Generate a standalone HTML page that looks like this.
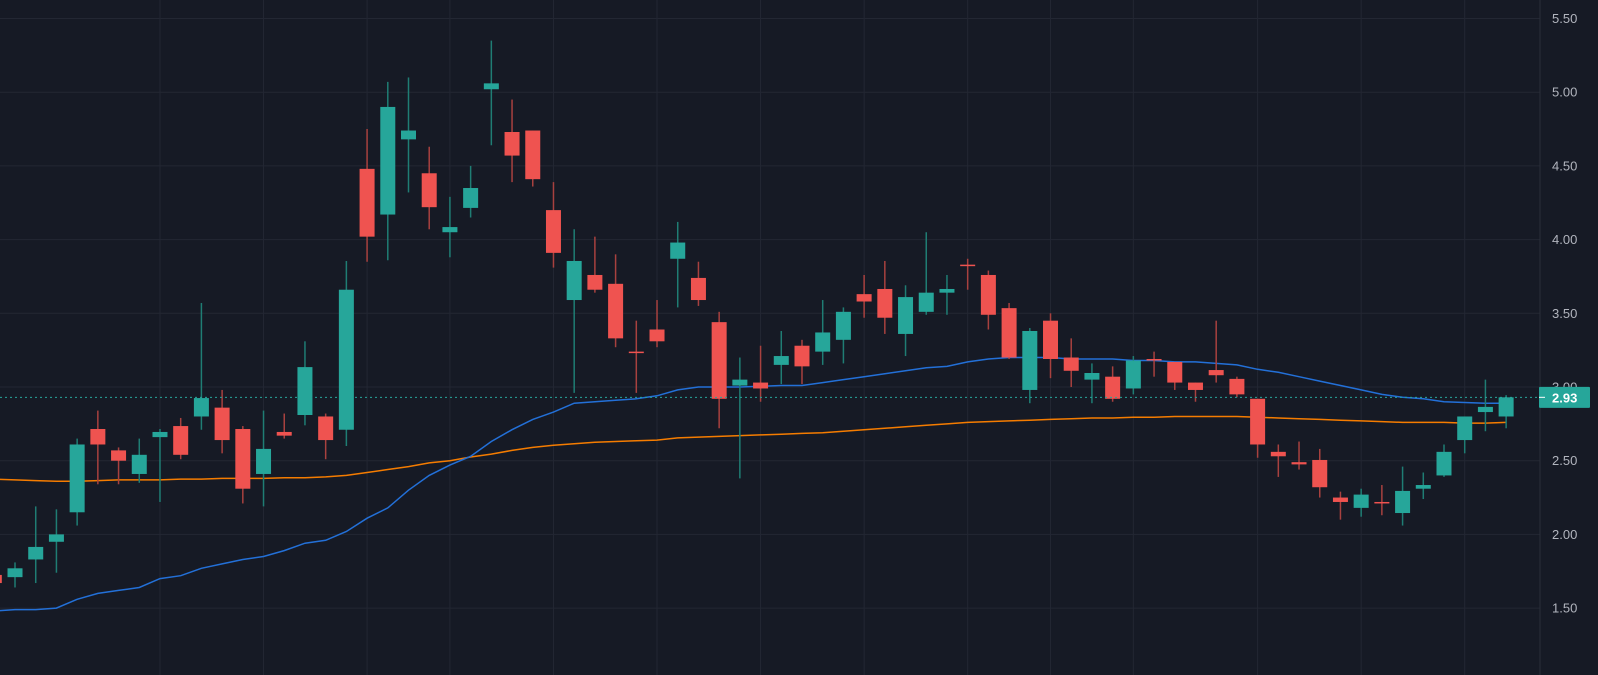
<!DOCTYPE html>
<html><head><meta charset="utf-8">
<style>
html,body{margin:0;padding:0;background:#161a25;width:1598px;height:675px;overflow:hidden;}
svg{display:block;font-family:"Liberation Sans",sans-serif;}
</style></head>
<body>
<svg id="chart" width="1598" height="675" viewBox="0 0 1598 675" xmlns="http://www.w3.org/2000/svg">
<rect x="0" y="0" width="1598" height="675" fill="#161a25"/>
<g id="grid"></g>
<g id="mas"></g>
<g id="candles"></g>
<g id="axis"></g>
</svg>
<script>
const opens  = [1.725,1.71,1.83,1.95,2.15,2.715,2.57,2.41,2.66,2.735,2.80,2.86,2.715,2.41,2.695,2.81,2.80,2.71,4.48,4.17,4.68,4.45,4.05,4.215,5.02,4.73,4.74,4.20,3.59,3.76,3.70,3.24,3.39,3.87,3.74,3.44,3.01,3.03,3.15,3.28,3.24,3.32,3.63,3.665,3.36,3.51,3.64,3.83,3.76,3.535,2.98,3.45,3.20,3.05,3.07,2.99,3.19,3.17,3.03,3.115,3.055,2.92,2.56,2.49,2.505,2.25,2.18,2.22,2.145,2.31,2.40,2.64,2.83,2.80];
const highs  = [1.74,1.81,2.19,2.17,2.65,2.84,2.59,2.65,2.715,2.79,3.57,2.98,2.735,2.84,2.82,3.31,2.82,3.855,4.75,5.07,5.10,4.63,4.29,4.50,5.35,4.95,4.74,4.39,4.07,4.02,3.90,3.45,3.59,4.12,3.85,3.51,3.20,3.28,3.38,3.32,3.59,3.54,3.76,3.855,3.69,4.05,3.76,3.87,3.79,3.57,3.40,3.50,3.33,3.16,3.14,3.21,3.24,3.17,3.03,3.45,3.07,2.92,2.61,2.63,2.58,2.29,2.31,2.335,2.46,2.42,2.61,2.80,3.05,2.945];
const lows   = [1.65,1.64,1.67,1.74,2.06,2.34,2.34,2.35,2.22,2.51,2.71,2.55,2.21,2.19,2.65,2.74,2.51,2.60,3.85,3.86,4.32,4.07,3.88,4.15,4.64,4.39,4.36,3.81,2.96,3.64,3.27,2.96,3.27,3.54,3.55,2.72,2.38,2.90,3.02,3.02,3.15,3.16,3.47,3.36,3.21,3.49,3.49,3.66,3.39,3.19,2.89,3.06,3.00,2.89,2.90,2.95,3.07,2.98,2.90,3.03,2.93,2.52,2.39,2.44,2.25,2.10,2.12,2.13,2.06,2.24,2.39,2.55,2.70,2.72];
const closes = [1.67,1.77,1.915,2.00,2.61,2.61,2.50,2.54,2.695,2.54,2.925,2.64,2.31,2.58,2.67,3.135,2.64,3.66,4.02,4.90,4.74,4.22,4.085,4.35,5.06,4.57,4.41,3.91,3.855,3.66,3.33,3.23,3.31,3.98,3.59,2.92,3.05,2.99,3.21,3.14,3.37,3.51,3.58,3.47,3.61,3.64,3.665,3.82,3.49,3.20,3.38,3.19,3.11,3.095,2.92,3.18,3.185,3.03,2.98,3.08,2.95,2.61,2.53,2.475,2.32,2.22,2.27,2.21,2.295,2.335,2.56,2.80,2.865,2.93];
const maFast = [1.48,1.49,1.49,1.50,1.56,1.60,1.62,1.64,1.70,1.72,1.77,1.80,1.83,1.85,1.89,1.94,1.96,2.02,2.11,2.18,2.30,2.40,2.47,2.53,2.63,2.71,2.78,2.83,2.89,2.90,2.91,2.92,2.94,2.98,3.00,3.00,3.00,3.005,3.01,3.01,3.03,3.05,3.07,3.09,3.11,3.13,3.14,3.17,3.19,3.20,3.20,3.20,3.19,3.19,3.19,3.18,3.18,3.17,3.17,3.16,3.15,3.12,3.10,3.07,3.04,3.01,2.98,2.95,2.93,2.92,2.90,2.895,2.89,2.89];
const maSlow = [2.375,2.37,2.365,2.36,2.36,2.365,2.37,2.37,2.37,2.375,2.375,2.38,2.38,2.38,2.385,2.385,2.39,2.40,2.42,2.44,2.46,2.485,2.50,2.525,2.545,2.57,2.59,2.605,2.615,2.625,2.63,2.635,2.64,2.655,2.66,2.665,2.67,2.675,2.68,2.685,2.69,2.70,2.71,2.72,2.73,2.74,2.75,2.76,2.765,2.77,2.775,2.78,2.785,2.79,2.79,2.795,2.795,2.80,2.80,2.80,2.80,2.795,2.79,2.785,2.78,2.775,2.77,2.765,2.76,2.76,2.76,2.755,2.755,2.76];
const priceTicks = [1.5,2.0,2.5,3.0,3.5,4.0,4.5,5.0,5.5];
const tickLabels = ["1.50","2.00","2.50","3.00","3.50","4.00","4.50","5.00","5.50"];
const gridIdx = [8,13,18,22,27,32,37,42,47,51,55,61,66,71];
const lastPrice = 2.93;

const NS="http://www.w3.org/2000/svg";
function yS(v){return 387+(3-v)*147.4;}
function xS(i){return -5.7+i*20.71;}
function mk(tag,attrs,parent){const e=document.createElementNS(NS,tag);for(const k in attrs)e.setAttribute(k,attrs[k]);parent.appendChild(e);return e;}
const grid=document.getElementById('grid'),mas=document.getElementById('mas'),cg=document.getElementById('candles'),ax=document.getElementById('axis');

priceTicks.forEach((p,k)=>{
  const l=mk('line',{x1:0,x2:1540,y1:yS(p),y2:yS(p),stroke:'#232733','stroke-width':1},grid);
  
  
  const t=mk('text',{x:1552,y:yS(p)+4.5,fill:'#b2b5be','font-size':13},ax);
  t.textContent=tickLabels[k];
  
  
});
gridIdx.forEach(i=>{
  const l=mk('line',{x1:xS(i),x2:xS(i),y1:0,y2:675,stroke:'#232733','stroke-width':1},grid);
  
  
});

function poly(arr,color,name){
  const pts=arr.map((v,i)=>xS(i).toFixed(1)+','+yS(v).toFixed(1)).join(' ');
  const p=mk('polyline',{points:pts,fill:'none',stroke:color,'stroke-width':1.5},mas);
  
  
}
poly(maSlow,'#f57c00','slow-moving-average');
poly(maFast,'#2370d8','fast-moving-average');

opens.forEach((o,i)=>{
  const c=closes[i],up=c>=o;
  const col=up?'#26a69a':'#ef5350';
  const wcol=up?'#1f7d74':'#a8413f';
  const g=mk('g',{},cg);
  
  
  const x=xS(i);
  mk('line',{x1:x,x2:x,y1:yS(highs[i]),y2:yS(lows[i]),stroke:wcol,'stroke-width':1.5},g);
  const top=yS(Math.max(o,c)),bot=yS(Math.min(o,c));
  mk('rect',{x:x-7.5,y:top,width:15,height:Math.max(1.5,bot-top),fill:col},g);
});

// last price line
const ly=yS(lastPrice);
const dl=mk('line',{x1:0,x2:1540,y1:ly,y2:ly,stroke:'#26a69a','stroke-width':1,'stroke-dasharray':'2,3'},ax);


const sep=mk('line',{x1:1540,x2:1540,y1:0,y2:675,stroke:'#2a2e39','stroke-width':1},ax);


const tag=mk('rect',{x:1539,y:ly-10.5,width:51,height:21,fill:'#26a69a',rx:1},ax);


mk('line',{x1:1539,x2:1545,y1:ly,y2:ly,stroke:'#ffffff','stroke-width':1},ax);
const tt=mk('text',{x:1552,y:ly+5,fill:'#ffffff','font-size':13,'font-weight':'bold'},ax);
tt.textContent=lastPrice.toFixed(2);


</script>
</body></html>
